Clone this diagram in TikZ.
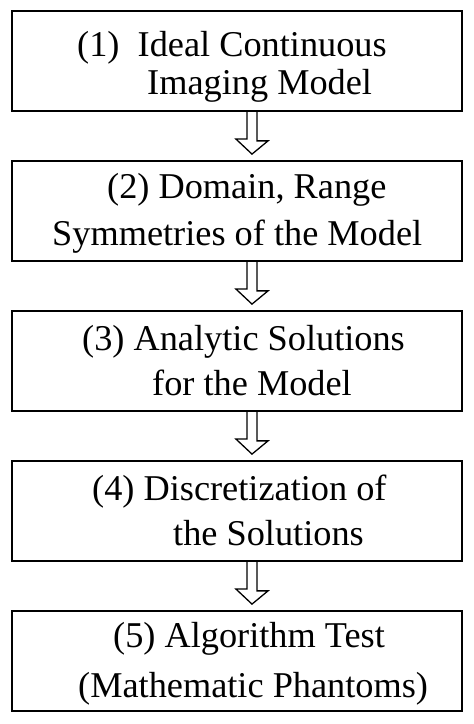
\documentclass[tikz,border=0pt]{standalone}
\usepackage{fontspec}
\setmainfont{Liberation Serif}
\usetikzlibrary{calc}
\begin{document}
\begin{tikzpicture}[x=1pt,y=1pt,
  stage/.style={draw, line width=1.8pt, minimum width=450pt, minimum height=100pt, inner sep=0pt},
  txt/.style={anchor=base west, inner sep=0pt, font=\fontsize{36.3}{42}\selectfont},
  hollow/.style={draw, line width=1.3pt, line join=miter}]
\useasboundingbox (0,0) rectangle (474,724);
\node[stage] (b1) at (237,663) {};
\node[stage] (b2) at (237,513) {};
\node[stage] (b3) at (237,363) {};
\node[stage] (b4) at (237,213) {};
\node[stage] (b5) at (237,63) {};
\node[txt] (t1a) at (77,667) {(1)~~Ideal Continuous};
\node[txt] (t1b) at (147,629) {Imaging Model};
\node[txt] (t2a) at (107,525) {(2) Domain, Range};
\node[txt] (t2b) at (52,478) {Symmetries of the Model};
\node[txt] (t3a) at (82,373) {(3) Analytic Solutions};
\node[txt] (t3b) at (152,328) {for the Model};
\node[txt] (t4a) at (92,223) {(4) Discretization of};
\node[txt] (t4b) at (173,178) {the Solutions};
\node[txt] (t5a) at (113,76) {(5) Algorithm Test};
\node[txt] (t5b) at (78,27) {(Mathematic Phantoms)};
\foreach \a/\b in {b1/b2,b2/b3,b3/b4,b4/b5}
  \draw[hollow] ($(\a.south)+(20,0)$) -- ++(0,-29) -- ++(11,0)
    -- ($(\b.north)+(15,6)$) -- ++(-16,15) -- ++(11,0) -- ++(0,29);
\end{tikzpicture}
\end{document}
